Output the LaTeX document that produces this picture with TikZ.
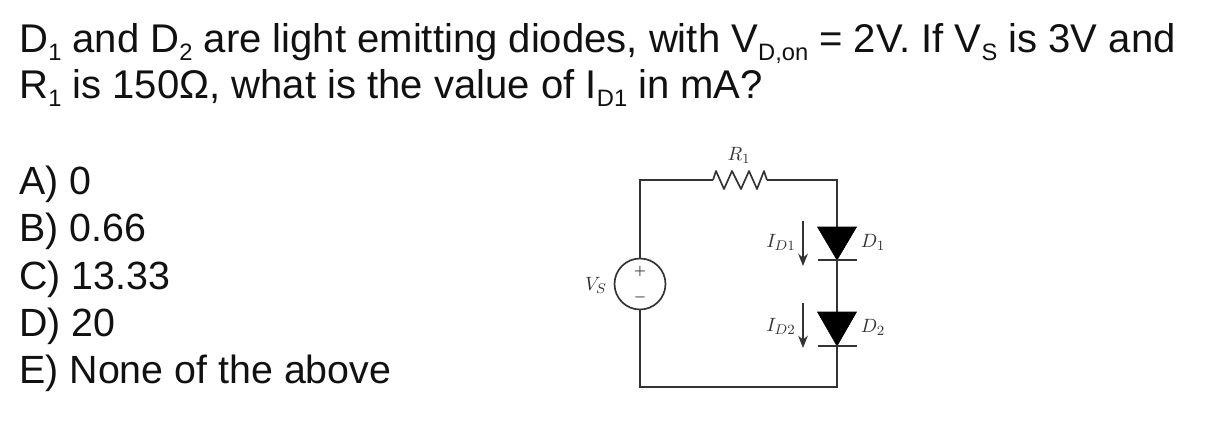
\documentclass[tikz,border=0pt]{standalone}
\usepackage{amsmath,amssymb}
\usepackage[no-math]{fontspec}
\setmainfont{Liberation Sans}
\usepackage{xcolor}
\usetikzlibrary{arrows.meta,calc}
\definecolor{wire}{HTML}{333333}
\definecolor{ink}{HTML}{111111}
\tikzset{
  txt/.style={anchor=base west, inner sep=0pt, text=ink, font=\fontsize{22.8}{27}\selectfont},
  ans/.style={txt, font=\fontsize{22.4}{27}\selectfont},
  lbl/.style={inner sep=0pt, text=wire, font=\fontsize{11}{13}\selectfont},
  sign/.style={inner sep=0pt, text=wire, font=\fontsize{7}{8}\selectfont\boldmath},
  wr/.style={draw=wire, line width=0.95pt},
  cur/.style={-{Stealth[length=7pt,width=5.5pt]}, draw=wire, line width=0.8pt},
  src/.style={circle, draw=wire, line width=0.95pt, minimum size=1.02cm, inner sep=0pt},
  led/.style={fill=black, draw=black, line width=0.3pt},
  bar/.style={draw=wire, line width=0.95pt}
}
\newcommand{\lowsub}[1]{\raisebox{-5pt}{\fontsize{13.5}{15}\selectfont #1}}
\begin{document}
\begin{tikzpicture}[x=0.02cm,y=-0.02cm]
  \useasboundingbox (0,0) rectangle (1224,430);
  % question
  \node[txt] (line1) at (19,52) {D\lowsub{1} and D\lowsub{2} are light emitting diodes, with V\lowsub{D,on} = 2V. If V\lowsub{S} is 3V and};
  \node[txt] (line2) at (19,98) {R\lowsub{1} is 150Ω, what is the value of I\lowsub{D1} in mA?};
  % answers
  \node[ans] (ansA) at (19,194) {A) 0};
  \node[ans] (ansB) at (19,241) {B) 0.66};
  \node[ans] (ansC) at (19,289) {C) 13.33};
  \node[ans] (ansD) at (19,336) {D) 20};
  \node[ans] (ansE) at (19,383) {E) None of the above};
  % circuit
  \node[src] (vs) at (640,284) {};
  \node[sign] (plus) at (640,271) {$+$};
  \node[sign] (minus) at (640,297) {$-$};
  \coordinate (tl) at (640,180);
  \coordinate (tr) at (837,180);
  \coordinate (bl) at (640,387);
  \coordinate (br) at (837,387);
  \coordinate (r1a) at (713,180);
  \coordinate (r1b) at (767,180);
  \coordinate (d1a) at (837,227);
  \coordinate (d1k) at (837,260);
  \coordinate (d2a) at (837,312);
  \coordinate (d2k) at (837,346);
  \draw[wr] (vs.north) -- (tl) -- (r1a);
  \draw[wr, line join=round] (r1a) -- ++(3,-9) -- ++(8,18) -- ++(8,-18) -- ++(9,18) -- ++(8,-18) -- ++(8,18) -- ++(7,-18) -- (r1b);
  \draw[wr] (r1b) -- (tr) -- (d1a);
  \draw[wr] (d1k) -- (d2a);
  \draw[wr] (d2k) -- (br) -- (bl) -- (vs.south);
  % diodes
  \foreach \d in {d1,d2}{
    \fill[led] ($(\d a)+(-19.5,0)$) -- ($(\d a)+(19.5,0)$) -- (\d k) -- cycle;
    \draw[bar] ($(\d k)+(-19.5,0)$) -- ($(\d k)+(19.5,0)$);
  }
  % current arrows
  \coordinate (i1a) at (803,221);
  \coordinate (i1b) at (803,266);
  \coordinate (i2a) at (803,303);
  \coordinate (i2b) at (803,348);
  \draw[cur] (i1a) -- (i1b);
  \draw[cur] (i2a) -- (i2b);
  % labels
  \node[lbl] (r1lab) at (739,155) {$R_1$};
  \node[lbl] (vslab) at (596,285) {$V_S$};
  \node[lbl] (i1lab) at (781,242) {$I_{D1}$};
  \node[lbl] (i2lab) at (781,326) {$I_{D2}$};
  \node[lbl] (d1lab) at (873,242) {$D_1$};
  \node[lbl] (d2lab) at (873,327) {$D_2$};
\end{tikzpicture}
\end{document}
